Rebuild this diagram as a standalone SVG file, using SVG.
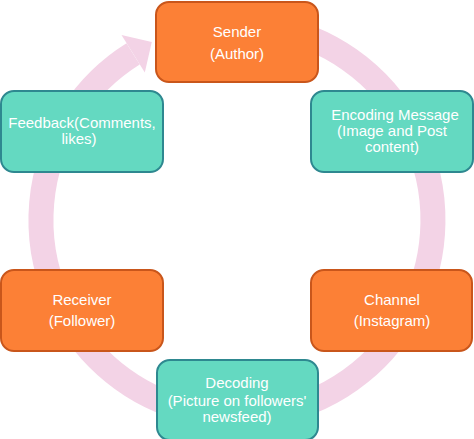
<svg xmlns="http://www.w3.org/2000/svg" width="474" height="439" viewBox="0 0 474 439">
<style>
.o{fill:#fc8036;stroke:#c9561b;stroke-width:2}
.t{fill:#64d9c1;stroke:#2e8890;stroke-width:2}
text{font-family:"Liberation Sans",Arial,sans-serif;font-size:15px;fill:#ffffff;text-anchor:middle}
</style>
<rect width="474" height="439" fill="#ffffff"/>
<g id="connectors">
<path d="M 271 27 A 196 196 0 1 1 133.1 53.8" fill="none" stroke="#f3d3e6" stroke-width="25"/>
<polygon points="121.5,35.1 151.8,42.1 144.8,72.4" fill="#f3d3e6"/>
</g>
<g id="sender">
<rect class="o" x="156" y="2" width="162" height="80" rx="13"/>
<text x="237" y="37">Sender</text>
<text x="237" y="59">(Author)</text>
</g>
<g id="encoding">
<rect class="t" x="311" y="91" width="162" height="81" rx="13"/>
<text x="395" y="120">Encoding Message</text>
<text x="392" y="136">(Image and Post</text>
<text x="392" y="152">content)</text>
</g>
<g id="channel">
<rect class="o" x="311" y="270" width="161" height="81" rx="13"/>
<text x="392" y="305">Channel</text>
<text x="392" y="326">(Instagram)</text>
</g>
<g id="decoding">
<rect class="t" x="157" y="360" width="161" height="80" rx="13"/>
<text x="237" y="388">Decoding</text>
<text x="237" y="406">(Picture on followers'</text>
<text x="237" y="422">newsfeed)</text>
</g>
<g id="receiver">
<rect class="o" x="1" y="270" width="162" height="81" rx="13"/>
<text x="82" y="305">Receiver</text>
<text x="82" y="326">(Follower)</text>
</g>
<g id="feedback">
<rect class="t" x="1" y="91" width="162" height="81" rx="13"/>
<text x="82" y="128">Feedback(Comments,</text>
<text x="79" y="144">likes)</text>
</g>
</svg>
